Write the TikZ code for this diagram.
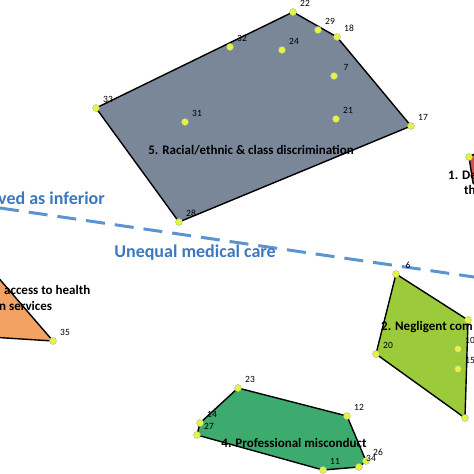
\documentclass[tikz,border=0pt]{standalone}
\usepackage{fontspec}
\setmainfont{Carlito}
\usepackage{xcolor}
\usepackage{tikz}
\usetikzlibrary{positioning}
\definecolor{slate}{HTML}{7A8799}
\definecolor{lime}{HTML}{9BCB3B}
\definecolor{jade}{HTML}{3DAA6E}
\definecolor{peach}{HTML}{F2A263}
\definecolor{brick}{HTML}{C9524F}
\definecolor{dotyellow}{HTML}{E4F53C}
\definecolor{themeblue}{HTML}{3B78BF}
\definecolor{lineblue}{HTML}{5B94CF}

\begin{document}
\begin{tikzpicture}[x=1pt, y=-1pt,
    hull/.style={draw=black, line width=1.4pt, line join=round},
    dot/.style={circle, draw=black!30, fill=dotyellow, inner sep=0pt, minimum size=7pt, line width=0.4pt},
    num/.style={font=\fontsize{9.5}{10}\selectfont, xshift=12pt, yshift=9pt},
    title/.style={font=\fontsize{13}{15}\selectfont\bfseries, inner sep=0pt},
    theme/.style={text=themeblue, font=\fontsize{18}{20}\selectfont\bfseries, inner sep=0pt},
    divide/.style={draw=lineblue, line width=3pt, dash pattern=on 19pt off 10pt}]
    \useasboundingbox (0,0) rectangle (474,474);
    \clip (0,0) rectangle (474,474);

    \foreach \n/\x/\y in {22/293/12, 18/337/37, 17/411/126, 28/179/222, 33/96/108,
        32/230/47, 29/318/30, 24/282/50, 7/334/76, 21/336/119, 31/185/122,
        1/469/157, 35/53/341, 6/396/274, 20/376/354, 10/458/349, 15/458/369,
        23/238/388, 12/347/416, 26/366/461, 34/359/467, 11/323/470, 27/197/435, 14/200/423}
        \coordinate (c\n) at (\x,\y);
    \coordinate (c2a) at (468,320);
    \coordinate (c2b) at (465,418);

    \filldraw[hull, fill=slate] (c33) -- (c22) -- (c18) -- (c17) -- (c28) -- cycle;
    \filldraw[hull, fill=brick] (c1) -- (482,150) -- (482,190) -- (473,183) -- cycle;
    \filldraw[hull, fill=peach] (-10,268) -- (c35) -- (-10,337) -- cycle;
    \filldraw[hull, fill=lime] (c6) -- (c2a) -- (c2b) -- (c20) -- cycle;
    \filldraw[hull, fill=jade] (c23) -- (c12) -- (c26) -- (c34) -- (c11) -- (c27) -- (c14) -- cycle;

    \coordinate (wl) at (0,208);
    \coordinate (wr) at (474,277);
    \draw[divide] (wl) -- (wr);

    \foreach \n in {22,18,17,28,33,32,29,24,7,21,31,1,35,6,20,10,15,23,12,26,34,11,27,14}
        \node (d\n) [dot] at (c\n) {};
    \node (d2a) [dot] at (c2a) {};
    \node (d2b) [dot] at (c2b) {};

    \foreach \n in {22,18,17,28,33,32,29,24,7,21,31,35,6,20,10,15,23,12,26,34,11,27,14}
        \node (n\n) [num] at (c\n) {\n};

    \node (racial) [title] at (251,150) {5. Racial/ethnic \& class discrimination};
    \node (prof) [title] at (294,443) {4. Professional misconduct};
    \node (negl) [title, anchor=west] at (381,327) {2. Negligent com};
    \node (dela) [title, anchor=west] at (448,175) {1. De};
    \node (delb) [title, anchor=west] at (464,190) {th};
    \node (acca) [title, anchor=west] at (4,290) {access to health};
    \node (accb) [title, anchor=west] at (-1,306) {n services};

    \node (infer) [theme, anchor=west] at (-2,198) {ved as inferior};
    \node (uneq) [theme] at (195,253) {Unequal medical care};
\end{tikzpicture}
\end{document}
